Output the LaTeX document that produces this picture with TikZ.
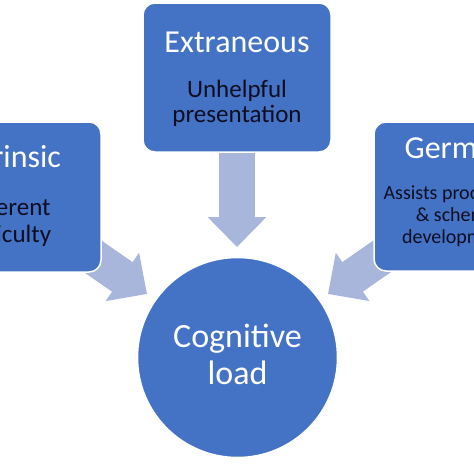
\documentclass[tikz,border=0pt]{standalone}
\usepackage{fontspec}
\setmainfont{Carlito}
\usetikzlibrary{arrows.meta,backgrounds}
\definecolor{boxblue}{HTML}{4472C4}
\definecolor{arrowblue}{HTML}{A9B6DC}
\definecolor{desctext}{HTML}{0E0E22}
\tikzset{
  box/.style={draw=white, line width=1.5pt, fill=boxblue, rounded corners=12pt, minimum width=188pt, inner sep=0pt},
  titletext/.style={text=white, anchor=base, inner sep=0pt, font=\fontsize{32}{35}\selectfont},
  desctext/.style={text=desctext, anchor=base, inner sep=0pt, align=center},
  blockarrow/.style={draw=arrowblue, line width=36pt, line cap=butt, -{Triangle[width=57pt,length=30pt]}},
}
\begin{document}
\begin{tikzpicture}[x=1pt,y=-1pt]
\useasboundingbox (0,0) rectangle (474,474);
\clip (0,0) rectangle (474,474);
% boxes
\node[box, minimum height=149pt] (ext) at (237,77.5) {};
\node[box, minimum height=150pt] (intr) at (7,197) {};
\node[box, minimum height=149pt] (germ) at (468,196.5) {};
\node[circle, fill=boxblue, draw=white, line width=1.5pt, minimum size=200pt, inner sep=0pt] (cl) at (237.5,357.5) {};
% arrow tips
\coordinate (tipE) at (237,247);
\coordinate (tipI) at (147,294);
\coordinate (tipG) at (328,294);
\begin{scope}[on background layer]
\draw[blockarrow] (ext.center) -- (tipE);
\draw[blockarrow] (intr.center) -- (tipI);
\draw[blockarrow] (germ.center) -- (tipG);
\end{scope}
% texts (base anchor of multi-line nodes = last line)
\node[titletext] (extT) at (237,52) {Extraneous};
\node[desctext, font=\fontsize{25}{25}\selectfont] (extD) at (237,122) {Unhelpful\\presentation};
\node[titletext] (intT) at (9,167) {Intrinsic};
\node[desctext, font=\fontsize{25}{27}\selectfont] (intD) at (7,242) {Inherent\\difficulty};
\node[titletext] (germT) at (465,158) {Germane};
\node[desctext, font=\fontsize{20}{22}\selectfont] (germD) at (456,243) {Assists processing\\\& schema\\development};
\node[text=white, anchor=base, inner sep=0pt, align=center, font=\fontsize{34}{37}\selectfont] (clT) at (237.5,384) {Cognitive\\load};
\end{tikzpicture}
\end{document}
